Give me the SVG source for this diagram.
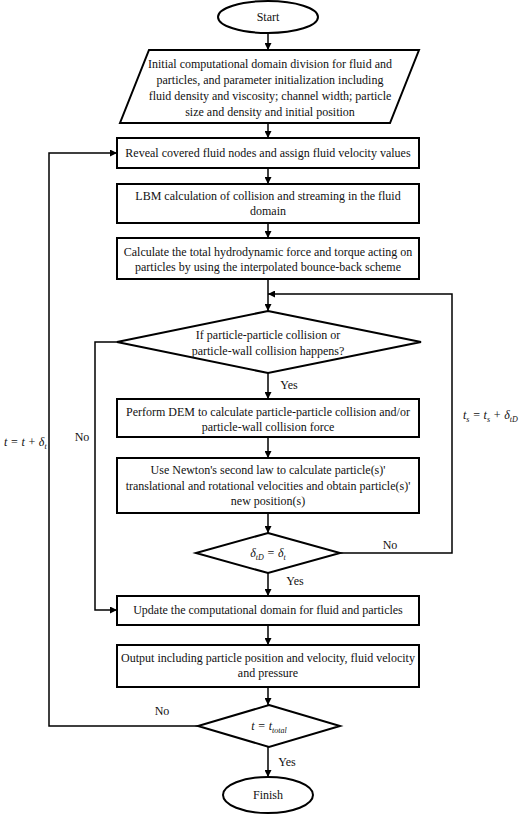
<svg xmlns="http://www.w3.org/2000/svg" width="520" height="816" viewBox="0 0 520 816">
<defs>
<marker id="ah" viewBox="0 0 10 10" refX="10" refY="5" markerWidth="7" markerHeight="7" markerUnits="userSpaceOnUse" orient="auto">
<path d="M0,0 L10,5 L0,10 z" fill="#000"/>
</marker>
<style>
.box{fill:#fff;stroke:#000;stroke-width:2}
.t{font-family:"Liberation Serif","Times New Roman",serif;font-size:12px;fill:#111;text-anchor:middle}
.m{font-family:"Liberation Serif","Times New Roman",serif;font-size:12px;font-style:italic;fill:#111}
.s{font-size:8px}
.c{fill:none;stroke:#000;stroke-width:1.5}
</style>
</defs>
<rect width="520" height="816" fill="#fff"/>
<g id="connectors">
<path class="c" d="M268,33 V50" marker-end="url(#ah)"/>
<path class="c" d="M268,123 V138" marker-end="url(#ah)"/>
<path class="c" d="M268,168 V184" marker-end="url(#ah)"/>
<path class="c" d="M268,223 V238" marker-end="url(#ah)"/>
<path class="c" d="M268,279 V311" marker-end="url(#ah)"/>
<path class="c" d="M340,553 H452 V294 H268" marker-end="url(#ah)"/>
<path class="c" d="M268,373 V399" marker-end="url(#ah)"/>
<path class="c" d="M268,437 V458" marker-end="url(#ah)"/>
<path class="c" d="M268,513 V533" marker-end="url(#ah)"/>
<path class="c" d="M268,573 V596" marker-end="url(#ah)"/>
<path class="c" d="M117,342 H95 V610 H117" marker-end="url(#ah)"/>
<path class="c" d="M268,625 V645" marker-end="url(#ah)"/>
<path class="c" d="M268,687 V705" marker-end="url(#ah)"/>
<path class="c" d="M198,726 H49 V153 H117" marker-end="url(#ah)"/>
<path class="c" d="M268,747 V777" marker-end="url(#ah)"/>
</g>
<g id="labels">
<text class="t" x="289" y="389">Yes</text>
<text class="t" x="295" y="585">Yes</text>
<text class="t" x="287" y="766">Yes</text>
<text class="t" x="390" y="549">No</text>
<text class="t" x="162" y="715">No</text>
<text class="t" x="82" y="441">No</text>
<text class="m" x="4" y="446">t = t + δ<tspan class="s" dy="3">t</tspan></text>
<text class="m" x="463" y="419">t<tspan class="s" dy="3">s</tspan><tspan dy="-3"> = t</tspan><tspan class="s" dy="3">s</tspan><tspan dy="-3"> + δ</tspan><tspan class="s" dy="3">tD</tspan></text>
</g>
<g id="start">
<ellipse class="box" cx="268" cy="17" rx="50" ry="16"/>
<text class="t" x="268" y="21">Start</text>
</g>
<g id="init">
<polygon class="box" points="149,50 419,50 390,123 120,123"/>
<text class="t" x="270" y="68">Initial computational domain division for fluid and</text>
<text class="t" x="270" y="84">particles, and parameter initialization including</text>
<text class="t" x="270" y="100">fluid density and viscosity; channel width; particle</text>
<text class="t" x="270" y="116">size and density and initial position</text>
</g>
<g id="reveal">
<rect class="box" x="117" y="138" width="302" height="30"/>
<text class="t" x="268" y="157">Reveal covered fluid nodes and assign fluid velocity values</text>
</g>
<g id="lbm">
<rect class="box" x="117" y="184" width="302" height="39"/>
<text class="t" x="268" y="200">LBM calculation of collision and streaming in the fluid</text>
<text class="t" x="268" y="215">domain</text>
</g>
<g id="force">
<rect class="box" x="117" y="238" width="302" height="41"/>
<text class="t" x="268" y="256">Calculate the total hydrodynamic force and torque acting on</text>
<text class="t" x="268" y="271">particles by using the interpolated bounce-back scheme</text>
</g>
<g id="collision">
<polygon class="box" points="268,311 421,342 268,373 117,342"/>
<text class="t" x="268" y="339">If particle-particle collision or</text>
<text class="t" x="268" y="355">particle-wall collision happens?</text>
</g>
<g id="dem">
<rect class="box" x="117" y="399" width="302" height="38"/>
<text class="t" x="268" y="416">Perform DEM to calculate particle-particle collision and/or</text>
<text class="t" x="268" y="431">particle-wall collision force</text>
</g>
<g id="newton">
<rect class="box" x="117" y="458" width="302" height="55"/>
<text class="t" x="268" y="474">Use Newton's second law to calculate particle(s)'</text>
<text class="t" x="268" y="490">translational and rotational velocities and obtain particle(s)'</text>
<text class="t" x="268" y="505">new position(s)</text>
</g>
<g id="substep">
<polygon class="box" points="268,533 340,553 268,573 196,553"/>
<text class="m" x="268" y="557" text-anchor="middle">δ<tspan class="s" dy="3">tD</tspan><tspan dy="-3"> = δ</tspan><tspan class="s" dy="3">t</tspan></text>
</g>
<g id="update">
<rect class="box" x="117" y="596" width="302" height="29"/>
<text class="t" x="268" y="614">Update the computational domain for fluid and particles</text>
</g>
<g id="output">
<rect class="box" x="117" y="645" width="302" height="42"/>
<text class="t" x="268" y="662">Output including particle position and velocity, fluid velocity</text>
<text class="t" x="268" y="677">and pressure</text>
</g>
<g id="total">
<polygon class="box" points="269,705 340,726 269,747 198,726"/>
<text class="m" x="269" y="730" text-anchor="middle">t = t<tspan class="s" dy="3">total</tspan></text>
</g>
<g id="finish">
<ellipse class="box" cx="268" cy="795" rx="45" ry="18"/>
<text class="t" x="268" y="799">Finish</text>
</g>
</svg>
